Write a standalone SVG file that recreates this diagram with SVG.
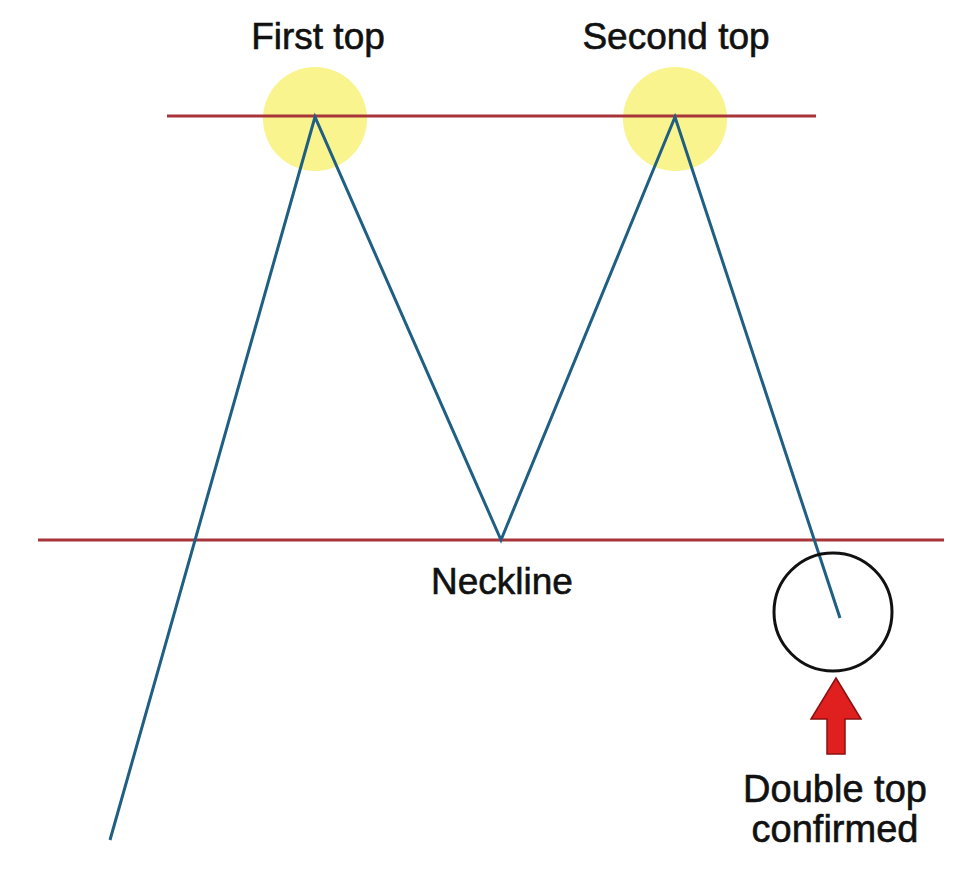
<svg xmlns="http://www.w3.org/2000/svg" width="960" height="870" viewBox="0 0 960 870">
<style>
.lbl{font-family:"Liberation Sans",Arial,sans-serif;font-size:37px;fill:#111;text-anchor:middle;stroke:#111;stroke-width:0.6}
.big{font-size:38px}
.red{stroke:#a8343a;stroke-width:3;fill:none}
.glow{fill:#f8f27a;opacity:0.85}
</style>
<rect width="960" height="870" fill="#fff"/>
<g id="tops">
<circle class="glow" cx="315" cy="119" r="52"/>
<circle class="glow" cx="675" cy="119" r="52"/>
</g>
<g id="levels">
<line class="red" x1="167" y1="116" x2="816" y2="116"/>
<line class="red" x1="38" y1="540" x2="944" y2="540"/>
</g>
<g id="price">
<polyline points="110,840 315,117 501,540 675,117 840,618" fill="none" stroke="#1f5f84" stroke-width="3" stroke-linejoin="miter"/>
</g>
<g id="confirm">
<circle cx="833" cy="612" r="59" fill="none" stroke="#111" stroke-width="3"/>
<polygon points="836,678 861,719 845,719 845,754 827,754 827,719 811,719" fill="#e0201f" stroke="#8a1010" stroke-width="1.5"/>
</g>
<g id="labels">
<text class="lbl" x="318" y="49">First top</text>
<text class="lbl" x="676" y="49">Second top</text>
<text class="lbl" x="502" y="594">Neckline</text>
<text class="lbl big" x="835" y="802">Double top</text>
<text class="lbl big" x="835" y="842">confirmed</text>
</g>
</svg>
